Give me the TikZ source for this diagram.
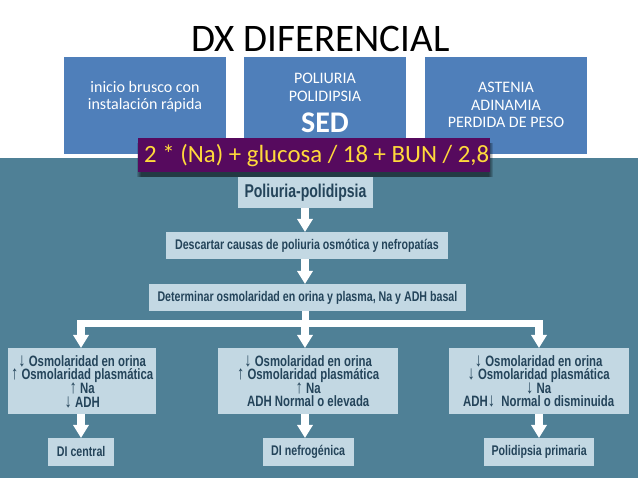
\documentclass[tikz,border=0pt]{standalone}
\usepackage{fontspec}
\setmainfont{Carlito}
\newfontfamily\narrowf[FakeStretch=0.76]{Liberation Sans}
\usetikzlibrary{arrows.meta,shadows}
\definecolor{teal1}{HTML}{4F8096}
\definecolor{blue1}{HTML}{4F7FBA}
\definecolor{light1}{HTML}{C3D8E3}
\definecolor{ink1}{HTML}{24445A}
\definecolor{purple1}{HTML}{560A5E}
\definecolor{yellow1}{HTML}{FFD93B}
\newcommand{\dnarrow}{\smash{\fontsize{19}{13.6}\selectfont ↓}}
\newcommand{\uparrowglyph}{\smash{\fontsize{19}{13.6}\selectfont ↑}}
\tikzset{
  bluebox/.style={fill=blue1,text=white,align=center,inner sep=0pt,font=\fontsize{16}{17.3}\selectfont},
  flowbox/.style={fill=light1,text=ink1,align=center,inner sep=0pt,font=\narrowf\bfseries\fontsize{14}{14}\selectfont},
  condbox/.style={flowbox,font=\narrowf\bfseries\fontsize{15}{13.6}\selectfont,minimum height=66pt,anchor=north west},
  endbox/.style={flowbox,minimum height=27.5pt,anchor=north west},
  flowarrow/.style={draw=white,line width=8.5pt,-{Triangle[length=13pt,width=15pt]}},
  branchline/.style={draw=white,line width=7pt},
  softshadow/.style={general shadow={shadow xshift=#1pt,shadow yshift=-5pt,shadow scale=1,opacity=.14,fill=black}}
}
\begin{document}
\begin{tikzpicture}[x=1pt,y=-1pt]
\useasboundingbox (0,0) rectangle (638,478);
\fill[white] (0,0) rectangle (638,478);
\node[anchor=base,font=\fontsize{39}{40}\selectfont,text=black,inner sep=0pt] (title) at (320.5,52) {DX DIFERENCIAL};
\node[bluebox,minimum width=162pt,minimum height=96.5pt,anchor=north west] (b1) at (64,57) {};
\node[bluebox,minimum width=162pt,minimum height=96.5pt,anchor=north west] (b2) at (244,57) {};
\node[bluebox,minimum width=162pt,minimum height=96.5pt,anchor=north west] (b3) at (425,57) {};
\node[bluebox] (t1) at (145,96.5) {inicio brusco con\\instalación rápida};
\node[bluebox] (t2) at (325,87.5) {POLIURIA\\POLIDIPSIA};
\node[bluebox,font=\bfseries\fontsize{30}{31}\selectfont] (t2b) at (325,122.5) {SED};
\node[bluebox] (t3) at (506,105) {ASTENIA\\ADINAMIA\\PERDIDA DE PESO};
\fill[teal1] (0,158) rectangle (638,478);
\node[flowbox,minimum width=135.5pt,minimum height=30.5pt,anchor=north west,font=\narrowf\bfseries\fontsize{18.5}{20}\selectfont] (p) at (237.5,177) {Poliuria-polidipsia};
\node[flowbox,minimum width=281.5pt,minimum height=27pt,anchor=north west] (d) at (166,232) {Descartar causas de poliuria osmótica y nefropatías};
\node[flowbox,minimum width=317.5pt,minimum height=27pt,anchor=north west] (o) at (148.5,284) {Determinar osmolaridad en orina y plasma, Na y ADH basal};
\node[condbox,minimum width=148pt] (c1) at (8,348) {\dnarrow{} Osmolaridad en orina\\\uparrowglyph{} Osmolaridad plasmática\\\uparrowglyph{} Na\\\dnarrow{} ADH};
\node[condbox,minimum width=180pt] (c2) at (218,348) {\dnarrow{} Osmolaridad en orina\\\uparrowglyph{} Osmolaridad plasmática\\\uparrowglyph{} Na\\ADH Normal o elevada};
\node[condbox,minimum width=180pt] (c3) at (448.5,348) {\dnarrow{} Osmolaridad en orina\\\dnarrow{} Osmolaridad plasmática\\\dnarrow{} Na\\ADH\dnarrow{} \ Normal o disminuida};
\node[endbox,minimum width=66pt] (e1) at (48,438) {DI central};
\node[endbox,minimum width=91pt] (e2) at (262.5,438) {DI nefrogénica};
\node[endbox,minimum width=110pt] (e3) at (484,438) {Polidipsia primaria};
\coordinate (jc) at (305,323.5);
\coordinate (jl) at (81,323.5);
\coordinate (jr) at (539,323.5);
\draw[flowarrow] (p.south -| jc) -- (d.north -| jc);
\draw[flowarrow] (d.south -| jc) -- (o.north -| jc);
\draw[branchline] (o.south -| jc) -- (jc);
\draw[branchline] ([xshift=-4pt]jl) -- ([xshift=4pt]jr);
\draw[flowarrow] (jl) -- (c1.north -| jl);
\draw[flowarrow] (jc) -- (c2.north -| jc);
\draw[flowarrow] (jr) -- (c3.north -| jr);
\draw[flowarrow] (c1.south -| jl) -- (e1.north -| jl);
\draw[flowarrow] (c2.south -| jc) -- (e2.north -| jc);
\draw[flowarrow] (c3.south -| jr) -- (e3.north -| jr);
\node[fill=purple1,text=yellow1,minimum width=352pt,minimum height=34pt,inner sep=0pt,anchor=north west,font=\fontsize{24.8}{26}\selectfont,
  softshadow=-1,softshadow=0,softshadow=1,softshadow=2,softshadow=3] (f) at (138,138) {\hspace{5pt}2 * (Na) + glucosa / 18 + BUN / 2,8};
\end{tikzpicture}
\end{document}
